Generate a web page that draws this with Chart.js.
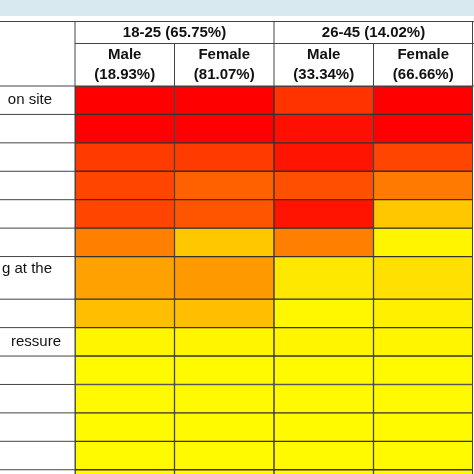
<!DOCTYPE html>
<html lang="en">
<head>
  <meta charset="UTF-8" />
  <title>Heat map</title>
  <script src="https://cdn.jsdelivr.net/npm/chart.js"></script>
  <style>
    body { margin: 0; background: #fff; }
    #wrap { width: 474px; height: 474px; }
  </style>
</head>
<body>
  <div id="wrap"><canvas id="heat"></canvas></div>
  <script>
    // columns and header text
    const groups = ['18-25 (65.75%)', '26-45 (14.02%)'];
    const columns = ['Male|(18.93%)', 'Female|(81.07%)', 'Male|(33.34%)', 'Female|(66.66%)'];
    // row heights in row units (row 7 is taller)
    const rowHeights = [1, 1, 1, 1, 1, 1, 1.5, 1, 1, 1, 1, 1, 1, 1];
    const rowLabels = ['on site', '', '', '', '', '', 'g at the', '', 'ressure', '', '', '', '', ''];
    // intensity per cell: 0 = yellow, 1 = red
    const intensity = [
      [1, 1, 0.8, 1],
      [1, 1, 0.94, 1],
      [0.77, 0.77, 0.92, 0.73],
      [0.73, 0.62, 0.69, 0.52],
      [0.73, 0.67, 0.92, 0.22],
      [0.5, 0.22, 0.5, 0.04],
      [0.37, 0.4, 0.09, 0.12],
      [0.25, 0.25, 0.03, 0.06],
      [0.04, 0.04, 0.04, 0.04],
      [0.02, 0.02, 0.02, 0.02],
      [0.02, 0.02, 0.02, 0.02],
      [0.02, 0.02, 0.02, 0.02],
      [0.02, 0.02, 0.02, 0.02],
      [0.02, 0.02, 0.02, 0.02]
    ];

    const colorOf = v => `rgb(255,${Math.round(255 * (1 - v))},0)`;

    let rowStart = 0;
    const datasets = intensity.map((row, i) => {
      const y0 = rowStart, y1 = rowStart + rowHeights[i];
      rowStart = y1;
      return {
        data: row.map(() => [y0, y1]),
        backgroundColor: row.map(colorOf),
        borderColor: '#333',
        borderWidth: 1,
        borderSkipped: false,
        barPercentage: 1,
        categoryPercentage: 1,
        grouped: false
      };
    });

    const tablePlugin = {
      id: 'table',
      afterDraw(chart) {
        const ctx = chart.ctx, x = chart.scales.x, y = chart.scales.y, a = chart.chartArea;
        const half = (x.getPixelForValue(1) - x.getPixelForValue(0)) / 2;
        const edges = [a.left];
        for (let i = 0; i < columns.length; i++) edges.push(x.getPixelForValue(i) + half);
        ctx.save();
        ctx.fillStyle = '#d8e9ef';
        ctx.fillRect(0, 0, 474, 16);
        ctx.strokeStyle = '#444';
        ctx.lineWidth = 1;
        const line = (x1, y1, x2, y2) => { ctx.beginPath(); ctx.moveTo(x1, y1); ctx.lineTo(x2, y2); ctx.stroke(); };
        line(0, 21.5, 474, 21.5);
        line(a.left, 43.5, 474, 43.5);
        line(0, a.top, 474, a.top);
        line(a.left, 21, a.left, 474);
        line(edges[2], 21, edges[2], a.top);
        line(edges[1], 43, edges[1], a.top);
        line(edges[3], 43, edges[3], a.top);
        line(edges[4] - 0.5, 21, edges[4] - 0.5, 474);
        // row lines in label column
        let t = 0;
        rowHeights.forEach(h => { t += h; const py = y.getPixelForValue(t); line(0, py, a.left, py); });
        ctx.fillStyle = '#111';
        ctx.textAlign = 'center';
        ctx.textBaseline = 'middle';
        ctx.font = 'bold 15px "Liberation Sans", Arial, sans-serif';
        groups.forEach((g, i) => ctx.fillText(g, (edges[i * 2] + edges[i * 2 + 2]) / 2, 33));
        columns.forEach((c, i) => {
          const [l1, l2] = c.split('|');
          const cx = (edges[i] + edges[i + 1]) / 2;
          ctx.fillText(l1, cx, 55);
          ctx.fillText(l2, cx, 75);
        });
        ctx.font = '15px "Liberation Sans", Arial, sans-serif';
        ctx.textAlign = 'right';
        let s = 0;
        rowLabels.forEach((lab, i) => {
          if (lab) {
            const py = rowHeights[i] > 1 ? y.getPixelForValue(s + 0.45) : y.getPixelForValue(s + rowHeights[i] / 2);
            ctx.fillText(lab, lab === 'ressure' ? 61 : 52, py);
          }
          s += rowHeights[i];
        });
        ctx.restore();
      }
    };

    new Chart('heat', {
      type: 'bar',
      data: { labels: columns, datasets },
      options: {
        responsive: true,
        maintainAspectRatio: false,
        animation: false,
        layout: { padding: { left: 75, top: 86, right: 1, bottom: 0 } },
        plugins: { legend: { display: false }, tooltip: { enabled: false } },
        scales: {
          x: { display: false, offset: true },
          y: { display: false, reverse: true, min: 0, max: 13.65 }
        }
      },
      plugins: [tablePlugin]
    });
  </script>
</body>
</html>
